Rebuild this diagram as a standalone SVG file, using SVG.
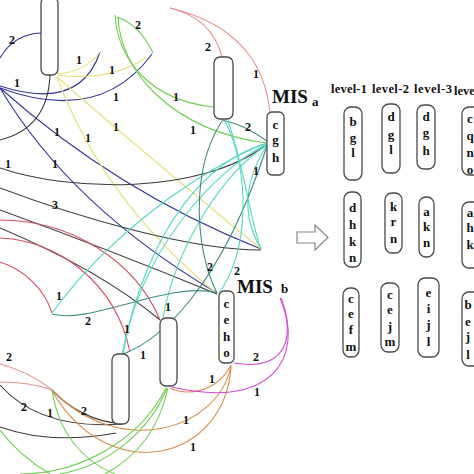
<svg xmlns="http://www.w3.org/2000/svg" width="474" height="474" viewBox="0 0 474 474">
<style>
.n{fill:#fff;stroke:#4a4a4a;stroke-width:1.3}
.e{fill:none;stroke-width:1.1}
.bl{stroke:#30309c}.ye{stroke:#e6df78}.gr{stroke:#6ccf50}.bk{stroke:#3a3a3a}.rd{stroke:#d94a5e}.pk{stroke:#e79090}.cy{stroke:#52d8c2}.tl{stroke:#3d8c80}.mg{stroke:#d845d8}.or{stroke:#d98b48}
.lb{font-family:"Liberation Serif",serif;font-weight:bold;font-size:12px;fill:#111;text-anchor:middle}
.lt{font-family:"Liberation Serif",serif;font-weight:bold;font-size:13px;fill:#111;text-anchor:middle}
.big{font-family:"Liberation Serif",serif;font-weight:bold;font-size:19px;fill:#111}
.sub{font-family:"Liberation Serif",serif;font-weight:bold;font-size:13px;fill:#111}
.lv{font-family:"Liberation Serif",serif;font-weight:bold;font-size:12.5px;fill:#111}
</style>
<rect width="474" height="474" fill="#fff"/>
<g id="connectors">
<path class="e bl" d="M41,33 Q14,34 0,58"/>
<path class="e bl" d="M0,86 Q80,112 100,52"/>
<path class="e bl" d="M0,88 Q100,125 152,54"/>
<path class="e bl" d="M0,88 Q70,206 217,293"/>
<path class="e bl" d="M0,88 Q117,192 261,249"/>
<path class="e ye" d="M57,74 Q85,72 100,52"/>
<path class="e ye" d="M57,75 Q110,82 147,57"/>
<path class="e ye" d="M57,77 Q140,150 261,249"/>
<path class="e ye" d="M57,77 Q102,199 217,294"/>
<path class="e gr" d="M115,15 C118,60 150,100 213,107"/>
<path class="e gr" d="M118,17 C120,70 170,130 266,143"/>
<path class="e gr" d="M117,17 Q140,25 153,53"/>
<path class="e pk" d="M170,8 Q212,18 222,57"/>
<path class="e pk" d="M170,8 Q262,30 270,113"/>
<path class="e bk" d="M50,75 Q48,128 0,140"/>
<path class="e bk" d="M0,168 C70,192 200,195 266,145"/>
<path class="e bk" d="M0,188 C80,218 190,250 261,250"/>
<path class="e bk" d="M0,210 Q110,250 217,294"/>
<path class="e bk" d="M0,228 Q100,270 160,320"/>
<path class="e bk" d="M0,385 Q40,430 122,424"/>
<path class="e bk" d="M52,390 Q80,420 122,424"/>
<path class="e bk" d="M0,427 Q50,445 116,433"/>
<path class="e rd" d="M0,220 C70,220 135,260 160,320"/>
<path class="e rd" d="M0,238 C55,240 115,280 130,352"/>
<path class="e rd" d="M0,262 C25,270 45,290 52,313"/>
<path class="e cy" d="M267,145 Q232,200 261,249"/>
<path class="e cy" d="M267,143 C220,160 120,220 52,313"/>
<path class="e cy" d="M267,144 C215,170 140,250 123,354"/>
<path class="e cy" d="M267,143 C210,160 150,220 122,354"/>
<path class="e cy" d="M267,145 C220,175 175,250 163,318"/>
<path class="e tl" d="M123,354 C160,340 220,290 267,146"/>
<path class="e tl" d="M222,120 Q245,125 267,141"/>
<path class="e tl" d="M222,121 C190,170 195,250 217,293"/>
<path class="e cy" d="M225,121 C250,170 250,250 219,293"/>
<path class="e cy" d="M228,121 C245,170 250,220 261,249"/>
<path class="e tl" d="M52,314 C90,325 170,280 217,293"/>
<path class="e or" d="M231,365 C215,395 185,395 170,388"/>
<path class="e or" d="M231,366 C218,430 120,460 52,390"/>
<path class="e or" d="M231,367 C225,460 110,490 52,391"/>
<path class="e mg" d="M280,298 C296,335 288,372 234,363"/>
<path class="e mg" d="M281,298 C305,360 270,410 172,387"/>
<path class="e pk" d="M0,364 Q30,372 52,390"/>
<path class="e pk" d="M0,382 Q30,382 52,390"/>
<path class="e gr" d="M168,388 C160,425 140,455 105,474"/>
<path class="e gr" d="M167,388 C150,430 110,465 60,474"/>
<path class="e gr" d="M166,388 C140,440 80,474 20,474"/>
<path class="e gr" d="M52,390 C58,430 80,460 115,474"/>
<path class="e gr" d="M0,430 C15,450 35,465 50,474"/>
</g>
<g id="edge-labels">
<text class="lb" x="12" y="44">2</text>
<text class="lb" x="138" y="29">2</text>
<text class="lb" x="79" y="64">1</text>
<text class="lb" x="112" y="74">1</text>
<text class="lb" x="17" y="87">1</text>
<text class="lb" x="116" y="101">1</text>
<text class="lb" x="57" y="136">1</text>
<text class="lb" x="116" y="131">1</text>
<text class="lb" x="88" y="142">1</text>
<text class="lb" x="208" y="51">2</text>
<text class="lb" x="256" y="78">1</text>
<text class="lb" x="176" y="101">1</text>
<text class="lb" x="193" y="134">1</text>
<text class="lb" x="248" y="131">2</text>
<text class="lb" x="256" y="175">1</text>
<text class="lb" x="8" y="168">1</text>
<text class="lb" x="55" y="168">1</text>
<text class="lb" x="55" y="209">3</text>
<text class="lb" x="59" y="300">1</text>
<text class="lb" x="210" y="271">2</text>
<text class="lb" x="237" y="275">2</text>
<text class="lb" x="168" y="311">1</text>
<text class="lb" x="88" y="325">2</text>
<text class="lb" x="127" y="333">1</text>
<text class="lb" x="143" y="359">1</text>
<text class="lb" x="9" y="361">2</text>
<text class="lb" x="24" y="411">2</text>
<text class="lb" x="50" y="417">1</text>
<text class="lb" x="84" y="415">2</text>
<text class="lb" x="256" y="361">2</text>
<text class="lb" x="212" y="383">1</text>
<text class="lb" x="257" y="396">1</text>
<text class="lb" x="186" y="424">1</text>
<text class="lb" x="193" y="451">1</text>
</g>
<g id="nodeA"><rect class="n" x="41" y="-3" width="17" height="78" rx="6"/></g>
<g id="nodeB"><rect class="n" x="214" y="57" width="19" height="62" rx="6"/></g>
<g id="nodeC"><rect class="n" x="160" y="318" width="17" height="68" rx="6"/></g>
<g id="nodeD"><rect class="n" x="112" y="354" width="17" height="70" rx="6"/></g>
<g id="misA">
<rect class="n" x="267" y="112" width="17" height="63" rx="5"/>
<text class="lt" x="275.5" y="129">c</text>
<text class="lt" x="275.5" y="144">g</text>
<text class="lt" x="275.5" y="162">h</text>
<text class="big" x="272" y="103">MIS</text>
<text class="sub" x="312" y="106">a</text>
</g>
<g id="misB">
<rect class="n" x="219" y="291" width="15" height="72" rx="5"/>
<text class="lt" x="226.5" y="308">c</text>
<text class="lt" x="226.5" y="324">e</text>
<text class="lt" x="226.5" y="341">h</text>
<text class="lt" x="226.5" y="357">o</text>
<text class="big" x="237" y="293">MIS</text>
<text class="sub" x="281" y="293">b</text>
</g>
<g id="arrow"><polygon points="297,232 315,232 315,225 328,237.5 315,250 315,243 297,243" fill="#fff" stroke="#888" stroke-width="1.2"/></g>
<g id="levels">
<text class="lv" x="331" y="93" textLength="36">level-1</text>
<text class="lv" x="372" y="93" textLength="37">level-2</text>
<text class="lv" x="414" y="93" textLength="38">level-3</text>
<text class="lv" x="454" y="95" font-size="12">leve</text>
</g>
<g id="l1r1"><rect class="n" x="344" y="107" width="18" height="73" rx="7"/><text class="lt" x="353" y="126">b</text><text class="lt" x="353" y="142">g</text><text class="lt" x="353" y="157">l</text></g>
<g id="l2r1"><rect class="n" x="382" y="104" width="18" height="69" rx="7"/><text class="lt" x="391" y="121">d</text><text class="lt" x="391" y="139">g</text><text class="lt" x="391" y="154">l</text></g>
<g id="l3r1"><rect class="n" x="417" y="105" width="18" height="64" rx="7"/><text class="lt" x="426" y="121">d</text><text class="lt" x="426" y="137">g</text><text class="lt" x="426" y="155">h</text></g>
<g id="l4r1"><rect class="n" x="462" y="107" width="22" height="68" rx="7"/><text class="lt" x="470" y="123">c</text><text class="lt" x="470" y="140">q</text><text class="lt" x="470" y="157">n</text><text class="lt" x="470" y="174">o</text></g>
<g id="l1r2"><rect class="n" x="344" y="192" width="17" height="75" rx="7"/><text class="lt" x="352.5" y="212">d</text><text class="lt" x="352.5" y="229">h</text><text class="lt" x="352.5" y="246">k</text><text class="lt" x="352.5" y="262">n</text></g>
<g id="l2r2"><rect class="n" x="385" y="193" width="17" height="60" rx="7"/><text class="lt" x="393.5" y="211">k</text><text class="lt" x="393.5" y="226">r</text><text class="lt" x="393.5" y="243">n</text></g>
<g id="l3r2"><rect class="n" x="419" y="197" width="15" height="60" rx="7"/><text class="lt" x="426.5" y="216">a</text><text class="lt" x="426.5" y="231">k</text><text class="lt" x="426.5" y="247">n</text></g>
<g id="l4r2"><rect class="n" x="462" y="202" width="22" height="66" rx="7"/><text class="lt" x="470" y="217">a</text><text class="lt" x="470" y="232">h</text><text class="lt" x="470" y="249">k</text></g>
<g id="l1r3"><rect class="n" x="343" y="288" width="16" height="69" rx="7"/><text class="lt" x="351" y="303">c</text><text class="lt" x="351" y="318">e</text><text class="lt" x="351" y="334">f</text><text class="lt" x="351" y="351">m</text></g>
<g id="l2r3"><rect class="n" x="381" y="283" width="18" height="69" rx="7"/><text class="lt" x="390" y="299">c</text><text class="lt" x="390" y="314">e</text><text class="lt" x="390" y="331">j</text><text class="lt" x="390" y="346">m</text></g>
<g id="l3r3"><rect class="n" x="418" y="278" width="21" height="79" rx="7"/><text class="lt" x="428.5" y="297">e</text><text class="lt" x="428.5" y="313">i</text><text class="lt" x="428.5" y="329">j</text><text class="lt" x="428.5" y="346">l</text></g>
<g id="l4r3"><rect class="n" x="462" y="292" width="22" height="74" rx="7"/><text class="lt" x="468" y="309">b</text><text class="lt" x="468" y="326">e</text><text class="lt" x="468" y="341">j</text><text class="lt" x="468" y="359">l</text></g>
</svg>
